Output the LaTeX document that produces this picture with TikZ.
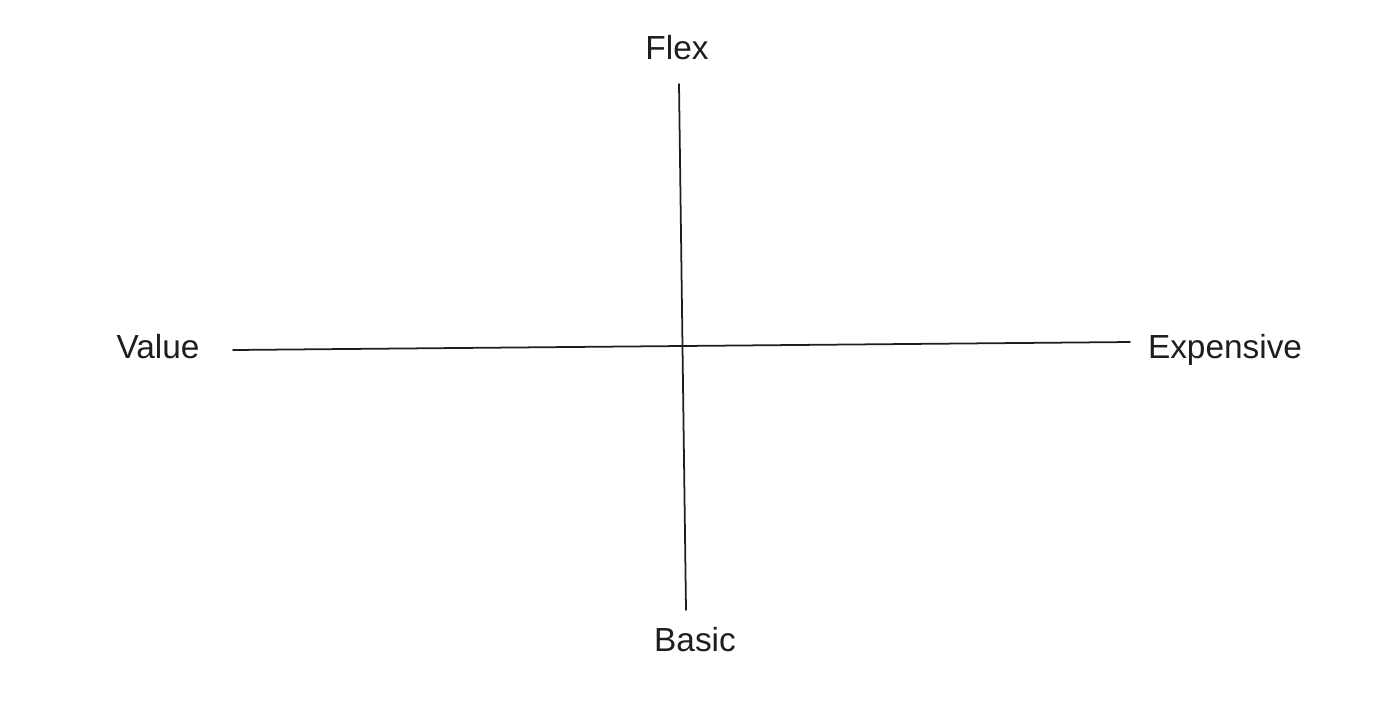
\documentclass[tikz,border=0pt]{standalone}
\usepackage{fontspec}
\setmainfont{Liberation Sans}
\usepackage{xcolor}
\usetikzlibrary{positioning}
\definecolor{ink}{HTML}{1E1E1E}

\begin{document}
\begin{tikzpicture}[
  x=0.02cm,
  y=-0.02cm,
  axis/.style={draw=ink, line width=1pt, line cap=round},
  lbl/.style={text=ink, inner sep=0pt, font=\fontsize{19}{22}\selectfont}
]
\useasboundingbox (0,0) rectangle (1378,708);
% axis ends
\coordinate (ytop) at (679,84);
\coordinate (ybot) at (686,610);
\coordinate (xleft) at (233,350);
\coordinate (xright) at (1130,342);
\draw[axis] (ytop) -- (ybot);
\draw[axis] (xleft) -- (xright);
% labels
\node[lbl] (flex) at (677,48) {Flex};
\node[lbl] (basic) at (695,640) {Basic};
\node[lbl] (value) at (158,347) {Value};
\node[lbl] (expensive) at (1225,350) {Expensive};
\end{tikzpicture}
\end{document}
